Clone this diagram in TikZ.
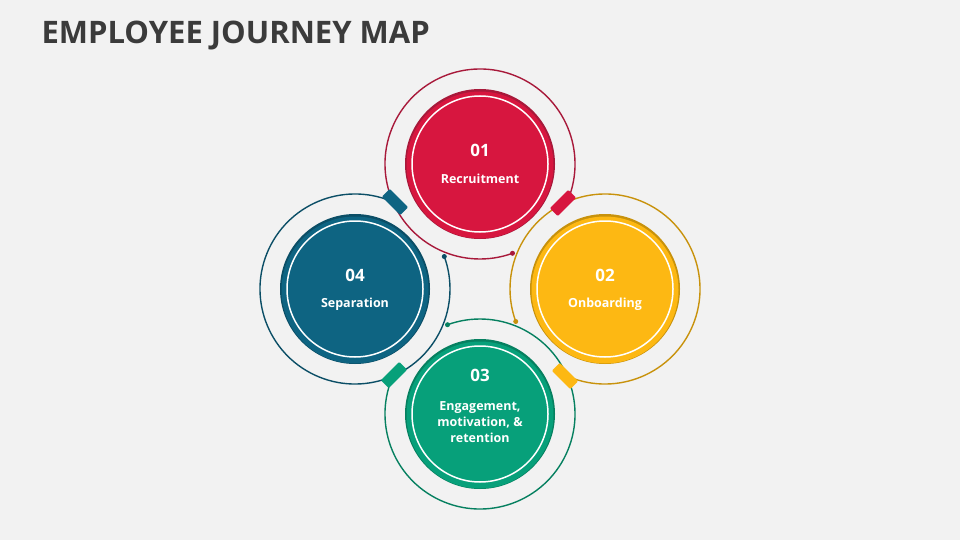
\documentclass[tikz,border=0pt]{standalone}
\usepackage{fontspec}
\setmainfont{Open Sans}
\definecolor{bg}{HTML}{F2F2F2}
\definecolor{cR}{HTML}{D7163F}\definecolor{dR}{HTML}{A8193A}
\definecolor{cG}{HTML}{FDB813}\definecolor{dG}{HTML}{C8920C}
\definecolor{cT}{HTML}{07A07A}\definecolor{dT}{HTML}{068060}
\definecolor{cB}{HTML}{0E6482}\definecolor{dB}{HTML}{0B4E66}
\definecolor{ttl}{HTML}{3B3B3B}
\begin{document}
\begin{tikzpicture}[x=1pt,y=-1pt,
  num/.style={text=white,font=\bfseries\fontsize{17}{20}\selectfont},
  lbl/.style={text=white,font=\bfseries\fontsize{12.5}{16}\selectfont,align=center},
  marker/.style={minimum width=26pt,minimum height=11pt,inner sep=0pt,rounded corners=1pt}]
\fill[bg] (0,0) rectangle (960,540);
\node[anchor=west,text=ttl,font=\bfseries\fontsize{31}{34}\selectfont] (title) at (38,36) {EMPLOYEE JOURNEY MAP};
\foreach \cx/\cy/\d/\a in {480/164/dR/-25, 605/289/dG/-115, 480/414/dT/-205, 355/289/dB/65}{
  \draw[\d,line width=1.4pt] ([shift={(\a:95pt)}]\cx,\cy) arc[start angle=-\a,end angle=-\a-315,radius=95];
  \fill[\d] ([shift={(\a+315:95pt)}]\cx,\cy) circle(2.5);
}
\foreach \cx/\cy/\c/\d in {480/164/cR/dR, 605/289/cG/dG, 480/414/cT/dT, 355/289/cB/dB}{
  \fill[\d] (\cx,\cy) circle(75);
  \fill[\c] (\cx,\cy+1) circle(73.5);
  \draw[white,line width=1.5pt] (\cx,\cy) circle(68);
}
\node[marker,fill=cR,rotate=45] (m1) at (563,203) {};
\node[marker,fill=cG,rotate=-45] (m2) at (565,376) {};
\node[marker,fill=cT,rotate=45] (m3) at (394,375) {};
\node[marker,fill=cB,rotate=-45] (m4) at (395,202) {};
\node[num] (n1) at (480,150) {01};
\node[lbl] (l1) at (480,179) {Recruitment};
\node[num] (n2) at (605,275) {02};
\node[lbl] (l2) at (605,304) {Onboarding};
\node[num] (n3) at (480,375) {03};
\node[lbl] (l3) at (480,422) {Engagement,\\motivation, \&\\retention};
\node[num] (n4) at (355,275) {04};
\node[lbl] (l4) at (355,304) {Separation};
\end{tikzpicture}
\end{document}
